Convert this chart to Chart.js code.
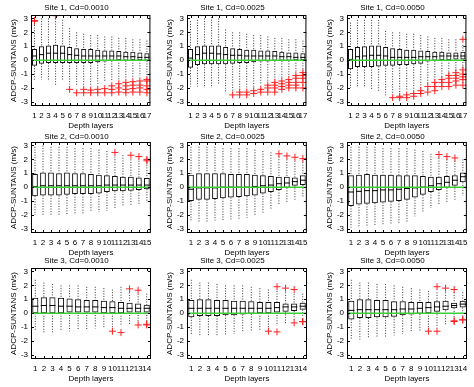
<!DOCTYPE html>
<html>
<head>
<meta charset="utf-8">
<script src="https://cdn.jsdelivr.net/npm/chart.js@4.4.0/dist/chart.umd.min.js"></script>
<style>
  html, body { margin: 0; padding: 0; background: #fff; }
  #wrap { position: relative; width: 474px; height: 387px; overflow: hidden; }
  #wrap canvas { position: absolute; }
</style>
</head>
<body>
<div id="wrap"></div>
<script>
// =====================
// Data
// =====================
const yTicks = [-3, -2, -1, 0, 1, 2, 3];
const titles = [
    "Site 1, Cd=0.0010", "Site 1, Cd=0.0025", "Site 1, Cd=0.0050",
    "Site 2, Cd=0.0010", "Site 2, Cd=0.0025", "Site 2, Cd=0.0050",
    "Site 3, Cd=0.0010", "Site 3, Cd=0.0025", "Site 3, Cd=0.0050"
];

// Site 1, Cd=0.0010 (17 layers)
const s1aHi  = [2.9, 3.0, 3.0, 3.0, 2.9, 2.3, 2.0, 1.9, 1.8, 1.8, 1.7, 1.7, 1.6, 1.6, 1.5, 1.5, 1.4];
const s1aQ3  = [0.8, 1.0, 1.05, 1.1, 1.05, 0.95, 0.85, 0.8, 0.8, 0.75, 0.7, 0.7, 0.65, 0.6, 0.6, 0.55, 0.5];
const s1aMed = [0.3, 0.4, 0.5, 0.5, 0.5, 0.4, 0.35, 0.3, 0.3, 0.3, 0.3, 0.3, 0.3, 0.25, 0.25, 0.2, 0.2];
const s1aQ1  = [-0.4, -0.25, -0.2, -0.2, -0.2, -0.2, -0.2, -0.2, -0.2, -0.15, -0.1, -0.05, 0.0, -0.05, 0.0, 0.0, -0.05];
const s1aLo  = [-1.4, -1.4, -1.5, -1.8, -1.5, -1.75, -1.9, -1.8, -1.8, -1.7, -1.6, -1.5, -1.4, -1.35, -1.25, -1.15, -1.1];
const s1aOut = [[1, 2.85], [1, 2.8], [4, 3.2], [6, -2.1], [7, -2.35], [8, -2.1], [8, -2.35], [9, -2.15], [9, -2.35],
    [10, -2.1], [10, -2.35], [11, -2.05], [11, -2.35], [12, -1.85], [12, -2.1], [12, -2.35], [13, -1.7], [13, -2.0],
    [13, -2.3], [14, -1.6], [14, -1.85], [14, -2.1], [14, -2.35], [15, -1.55], [15, -1.8], [15, -2.05], [15, -2.3],
    [16, -1.5], [16, -1.8], [16, -2.0], [16, -2.3], [17, -1.4], [17, -1.5], [17, -1.85], [17, -2.1], [17, -2.35]];

// Site 1, Cd=0.0025
const s1bHi  = [2.8, 2.9, 3.0, 3.1, 3.0, 2.2, 2.0, 2.0, 1.9, 1.8, 1.8, 1.7, 1.6, 1.6, 1.5, 1.5, 1.4];
const s1bQ3  = [0.8, 1.0, 1.05, 1.05, 1.05, 0.95, 0.85, 0.8, 0.75, 0.75, 0.7, 0.7, 0.65, 0.6, 0.55, 0.55, 0.5];
const s1bMed = [0.15, 0.4, 0.5, 0.5, 0.45, 0.4, 0.35, 0.35, 0.3, 0.3, 0.3, 0.3, 0.3, 0.25, 0.25, 0.2, 0.2];
const s1bQ1  = [-0.55, -0.35, -0.3, -0.3, -0.3, -0.3, -0.25, -0.2, -0.2, -0.15, -0.1, -0.1, -0.05, -0.05, -0.05, 0.0, 0.0];
const s1bLo  = [-1.9, -1.9, -2.0, -2.0, -1.8, -2.3, -2.2, -2.1, -2.0, -1.9, -1.8, -1.6, -1.4, -1.3, -1.2, -0.9, -0.8];
const s1bOut = [[7, -2.5], [8, -2.3], [8, -2.5], [9, -2.3], [9, -2.5], [10, -2.2], [10, -2.4], [11, -2.1], [11, -2.3],
    [12, -1.8], [12, -2.0], [12, -2.3], [13, -1.6], [13, -1.8], [13, -2.0], [13, -2.3], [14, -1.5], [14, -1.7],
    [14, -1.9], [14, -2.1], [15, -1.4], [15, -1.6], [15, -1.8], [15, -2.0], [16, -1.1], [16, -1.3], [16, -1.6],
    [16, -1.8], [16, -2.0], [17, -0.9], [17, -1.1], [17, -1.3], [17, -1.6], [17, -2.0]];

// Site 1, Cd=0.0050
const s1cHi  = [2.7, 2.9, 2.9, 2.9, 2.9, 2.1, 2.0, 2.0, 1.9, 1.9, 1.8, 1.7, 1.6, 1.6, 1.5, 1.5, 1.1];
const s1cQ3  = [0.8, 0.95, 1.0, 1.05, 1.05, 0.95, 0.85, 0.8, 0.75, 0.75, 0.7, 0.65, 0.6, 0.6, 0.55, 0.55, 0.6];
const s1cMed = [0.05, 0.25, 0.3, 0.35, 0.35, 0.3, 0.2, 0.2, 0.2, 0.2, 0.25, 0.25, 0.25, 0.3, 0.3, 0.3, 0.3];
const s1cQ1  = [-0.65, -0.5, -0.5, -0.5, -0.45, -0.4, -0.4, -0.35, -0.35, -0.3, -0.25, -0.1, -0.05, 0.0, 0.0, 0.05, 0.05];
const s1cLo  = [-2.0, -2.0, -2.0, -2.1, -2.2, -2.6, -2.4, -2.3, -2.2, -2.1, -2.0, -1.7, -1.4, -1.2, -1.0, -0.8, -0.6];
const s1cOut = [[7, -2.7], [8, -2.7], [8, -2.6], [9, -2.5], [9, -2.7], [10, -2.4], [10, -2.6], [11, -2.2], [11, -2.4],
    [12, -1.9], [12, -2.3], [13, -1.6], [13, -1.9], [13, -2.2], [14, -1.4], [14, -1.6], [14, -1.9], [15, -1.1],
    [15, -1.3], [15, -1.6], [15, -1.9], [16, -0.9], [16, -1.1], [16, -1.3], [16, -1.5], [16, -1.8], [17, 1.5],
    [17, -0.7], [17, -1.0], [17, -1.2], [17, -1.4], [17, -1.8]];

// Site 2, Cd=0.0010 (15 layers)
const s2aHi  = [2.9, 3.0, 2.9, 2.9, 2.9, 2.8, 2.8, 2.8, 2.7, 2.6, 2.2, 2.3, 2.0, 1.9, 1.8];
const s2aQ3  = [0.95, 1.05, 1.05, 1.0, 1.05, 1.0, 1.0, 0.95, 0.9, 0.85, 0.8, 0.75, 0.75, 0.7, 0.65];
const s2aMed = [0.05, 0.1, 0.1, 0.1, 0.1, 0.1, 0.1, 0.1, 0.1, 0.15, 0.15, 0.15, 0.15, 0.15, 0.15];
const s2aQ1  = [-0.65, -0.6, -0.6, -0.6, -0.55, -0.5, -0.5, -0.5, -0.45, -0.35, -0.3, -0.3, -0.25, -0.2, -0.15];
const s2aLo  = [-2.0, -2.0, -2.0, -2.0, -2.0, -1.9, -1.9, -1.8, -1.8, -1.7, -1.5, -1.4, -1.3, -1.2, -1.1];
const s2aOut = [[11, 2.5], [13, 2.3], [14, 2.2], [15, 1.9], [15, 2.0]];

// Site 2, Cd=0.0025
const s2bHi  = [2.9, 2.9, 2.9, 2.9, 2.8, 2.8, 2.8, 2.8, 2.7, 2.6, 2.5, 2.2, 2.0, 1.9, 1.8];
const s2bQ3  = [0.9, 1.0, 1.0, 1.0, 1.0, 0.95, 0.95, 0.95, 0.9, 0.85, 0.8, 0.75, 0.75, 0.7, 0.85];
const s2bMed = [-0.15, -0.05, -0.05, -0.05, 0.0, 0.0, 0.0, 0.0, 0.05, 0.1, 0.15, 0.25, 0.3, 0.4, 0.5];
const s2bQ1  = [-1.0, -0.9, -0.9, -0.85, -0.8, -0.75, -0.7, -0.65, -0.6, -0.45, -0.35, -0.2, -0.05, 0.1, 0.15];
const s2bLo  = [-2.5, -2.5, -2.5, -2.4, -2.4, -2.4, -2.3, -2.2, -2.1, -1.9, -1.6, -1.3, -1.1, -0.9, -0.7];
const s2bOut = [[12, 2.4], [13, 2.25], [14, 2.15], [15, 2.05]];

// Site 2, Cd=0.0050
const s2cHi  = [2.9, 2.9, 2.9, 2.9, 2.8, 2.8, 2.8, 2.8, 2.7, 2.6, 2.4, 2.1, 2.0, 1.9, 2.0];
const s2cQ3  = [0.85, 0.9, 0.95, 0.9, 0.9, 0.9, 0.85, 0.85, 0.85, 0.8, 0.75, 0.75, 0.8, 0.85, 1.05];
const s2cMed = [-0.35, -0.3, -0.25, -0.25, -0.2, -0.2, -0.15, -0.1, -0.05, 0.0, 0.1, 0.25, 0.35, 0.5, 0.75];
const s2cQ1  = [-1.35, -1.25, -1.2, -1.15, -1.1, -1.05, -1.0, -0.9, -0.75, -0.55, -0.35, -0.2, -0.05, 0.1, 0.35];
const s2cLo  = [-2.9, -2.9, -2.8, -2.8, -2.7, -2.7, -2.6, -2.5, -2.1, -1.8, -1.5, -1.3, -1.1, -0.9, -0.6];
const s2cOut = [[12, 2.35], [13, 2.2], [14, 2.1]];

// Site 3, Cd=0.0010 (14 layers)
const s3aHi  = [2.4, 2.2, 2.1, 2.0, 2.0, 2.0, 1.9, 1.9, 1.8, 1.7, 1.9, 1.5, 1.4, 1.4];
const s3aQ3  = [1.1, 1.15, 1.15, 1.1, 1.05, 1.0, 0.95, 0.95, 0.9, 0.85, 0.8, 0.75, 0.7, 0.6];
const s3aMed = [0.5, 0.55, 0.55, 0.5, 0.5, 0.45, 0.45, 0.45, 0.4, 0.4, 0.35, 0.35, 0.35, 0.35];
const s3aQ1  = [0.0, 0.0, 0.0, 0.0, 0.05, 0.05, 0.05, 0.05, 0.0, 0.0, 0.0, 0.05, 0.05, 0.05];
const s3aLo  = [-1.3, -1.4, -1.4, -1.3, -1.3, -1.2, -1.2, -1.1, -1.1, -1.0, -0.9, -0.8, -0.6, -0.6];
const s3aOut = [[10, -1.3], [11, -1.4], [12, 1.75], [13, 1.65], [13, -0.85], [14, -0.8], [14, -0.85]];

// Site 3, Cd=0.0025
const s3bHi  = [2.4, 2.2, 2.2, 2.1, 2.0, 2.0, 2.0, 1.9, 1.8, 1.7, 1.6, 1.5, 1.4, 1.4];
const s3bQ3  = [0.95, 1.0, 1.0, 0.95, 0.95, 0.9, 0.9, 0.85, 0.8, 0.8, 0.8, 0.7, 0.7, 0.75];
const s3bMed = [0.35, 0.35, 0.35, 0.35, 0.35, 0.35, 0.35, 0.35, 0.35, 0.35, 0.4, 0.45, 0.45, 0.5];
const s3bQ1  = [-0.3, -0.2, -0.2, -0.2, -0.15, -0.15, -0.1, -0.05, 0.0, 0.0, 0.05, 0.1, 0.15, 0.25];
const s3bLo  = [-1.6, -1.6, -1.6, -1.6, -1.6, -1.5, -1.4, -1.3, -1.2, -1.1, -0.9, -0.8, -0.5, -0.3];
const s3bOut = [[10, -1.3], [11, 1.9], [11, -1.35], [12, 1.8], [13, 1.7], [13, -0.7], [14, -0.6], [14, -0.62]];

// Site 3, Cd=0.0050
const s3cHi  = [2.4, 2.2, 2.2, 2.1, 2.1, 2.0, 1.9, 1.8, 1.7, 1.6, 1.5, 1.5, 1.5, 1.5];
const s3cQ3  = [0.9, 1.0, 1.0, 0.95, 0.95, 0.85, 0.85, 0.8, 0.8, 0.8, 0.85, 0.9, 0.75, 0.9];
const s3cMed = [0.2, 0.25, 0.25, 0.25, 0.25, 0.25, 0.3, 0.3, 0.35, 0.4, 0.45, 0.5, 0.55, 0.65];
const s3cQ1  = [-0.45, -0.35, -0.35, -0.3, -0.3, -0.25, -0.15, -0.1, -0.05, 0.0, 0.1, 0.2, 0.35, 0.4];
const s3cLo  = [-1.9, -1.9, -1.8, -1.8, -1.7, -1.6, -1.5, -1.4, -1.3, -1.1, -0.9, -0.8, -0.4, -0.2];
const s3cOut = [[10, -1.3], [11, 1.9], [11, -1.3], [12, 1.8], [13, 1.7], [13, -0.55], [13, -0.6], [14, -0.45], [14, -0.5]];

const panels = [
    { hi: s1aHi, q3: s1aQ3, med: s1aMed, q1: s1aQ1, lo: s1aLo, out: s1aOut },
    { hi: s1bHi, q3: s1bQ3, med: s1bMed, q1: s1bQ1, lo: s1bLo, out: s1bOut },
    { hi: s1cHi, q3: s1cQ3, med: s1cMed, q1: s1cQ1, lo: s1cLo, out: s1cOut },
    { hi: s2aHi, q3: s2aQ3, med: s2aMed, q1: s2aQ1, lo: s2aLo, out: s2aOut },
    { hi: s2bHi, q3: s2bQ3, med: s2bMed, q1: s2bQ1, lo: s2bLo, out: s2bOut },
    { hi: s2cHi, q3: s2cQ3, med: s2cMed, q1: s2cQ1, lo: s2cLo, out: s2cOut },
    { hi: s3aHi, q3: s3aQ3, med: s3aMed, q1: s3aQ1, lo: s3aLo, out: s3aOut },
    { hi: s3bHi, q3: s3bQ3, med: s3bMed, q1: s3bQ1, lo: s3bLo, out: s3bOut },
    { hi: s3cHi, q3: s3cQ3, med: s3cMed, q1: s3cQ1, lo: s3cLo, out: s3cOut }
];

// =====================
// Layout
// =====================
const colLeft = [31, 187, 347];
const rowTop = [15, 142, 268];
const rowTitlePad = [{ top: 1, bottom: 3 }, { top: 3, bottom: 1 }, { top: 1, bottom: 3 }];
const PLOT_W = 122, PLOT_H = 91;
const AXIS_W = 31, TITLE_H = 12, XAXIS_H = 25, RIGHT_PAD = 3;

Chart.defaults.font.family = "'Liberation Sans', Arial, sans-serif";
Chart.defaults.color = "#000";

// green zero reference line, drawn over the boxes
const zeroLinePlugin = {
    id: "zeroLine",
    afterDatasetsDraw(chart) {
        const { ctx, chartArea: a, scales } = chart;
        const y = scales.y.getPixelForValue(0);
        ctx.save();
        ctx.strokeStyle = "#3ccf3c";
        ctx.lineWidth = 1.5;
        ctx.beginPath();
        ctx.moveTo(a.left, y);
        ctx.lineTo(a.right, y);
        ctx.stroke();
        ctx.restore();
    }
};

// box around the plot + inward tick marks (MATLAB style)
const framePlugin = {
    id: "frame",
    afterDraw(chart) {
        const { ctx, chartArea: a, scales } = chart;
        ctx.save();
        ctx.strokeStyle = "#000";
        ctx.lineWidth = 1;
        ctx.strokeRect(a.left + 0.5, a.top + 0.5, a.right - a.left - 1, a.bottom - a.top - 1);
        ctx.beginPath();
        scales.y.ticks.forEach(t => {
            const y = Math.round(scales.y.getPixelForValue(t.value)) + 0.5;
            ctx.moveTo(a.left, y); ctx.lineTo(a.left + 3, y);
            ctx.moveTo(a.right, y); ctx.lineTo(a.right - 3, y);
        });
        scales.x.ticks.forEach((t, i) => {
            const x = Math.round(scales.x.getPixelForValue(i)) + 0.5;
            ctx.moveTo(x, a.bottom); ctx.lineTo(x, a.bottom - 3);
            ctx.moveTo(x, a.top); ctx.lineTo(x, a.top + 3);
        });
        ctx.stroke();
        ctx.restore();
    }
};

const wrap = document.getElementById("wrap");

function makePanel(p, title, left, top, titlePad) {
    const canvas = document.createElement("canvas");
    canvas.width = AXIS_W + PLOT_W + RIGHT_PAD;
    canvas.height = TITLE_H + PLOT_H + XAXIS_H;
    canvas.style.left = (left - AXIS_W) + "px";
    canvas.style.top = (top - TITLE_H) + "px";
    wrap.appendChild(canvas);

    const labels = p.hi.map((v, i) => String(i + 1));
    const n = labels.length;

    const whiskers = [];
    labels.forEach((lab, i) => {
        whiskers.push({ x: lab, y: p.hi[i] }, { x: lab, y: p.q3[i] }, { x: lab, y: null },
                      { x: lab, y: p.q1[i] }, { x: lab, y: p.lo[i] }, { x: lab, y: null });
    });

    new Chart(canvas, {
        type: "bar",
        data: {
            labels,
            datasets: [
                {
                    type: "line", order: 0, data: p.out.map(o => ({ x: String(o[0]), y: o[1] })),
                    showLine: false, pointStyle: "cross", pointRadius: 3.5,
                    borderColor: "#ff2020", pointBorderColor: "#ff2020", pointBorderWidth: 1
                },
                {
                    type: "line", order: 2, data: labels.map((lab, i) => ({ x: lab, y: p.med[i] })),
                    showLine: false, pointStyle: "line", pointRadius: PLOT_W / n * 0.36,
                    pointBorderColor: "#000", pointBorderWidth: 1
                },
                {
                    type: "bar", order: 3, data: p.q1.map((v, i) => [v, p.q3[i]]),
                    backgroundColor: "rgba(0,0,0,0)", borderColor: "#111", borderWidth: 1,
                    inflateAmount: 0, borderSkipped: false, barPercentage: 0.72, categoryPercentage: 1.0
                },
                {
                    type: "line", order: 4, data: whiskers, spanGaps: false,
                    borderColor: "#333", borderWidth: 1, borderDash: [1, 1.6], pointRadius: 0
                }
            ]
        },
        options: {
            responsive: false,
            animation: false,
            events: [],
            layout: { padding: { right: RIGHT_PAD } },
            plugins: {
                legend: { display: false },
                tooltip: { enabled: false },
                title: {
                    display: true, text: title, color: "#000",
                    font: { size: 8, weight: "normal", lineHeight: 1 },
                    padding: titlePad
                }
            },
            scales: {
                x: {
                    type: "category", offset: true,
                    grid: { display: false, drawTicks: false },
                    border: { display: false },
                    ticks: { autoSkip: false, maxRotation: 0, minRotation: 0, padding: 4.5, font: { size: 8 } },
                    title: { display: true, text: "Depth layers", font: { size: 8, lineHeight: 1.1 }, padding: { top: 0, bottom: 1 } },
                    afterFit: s => { s.height = XAXIS_H; }
                },
                y: {
                    min: -3.3, max: 3.25,
                    afterBuildTicks: s => { s.ticks = yTicks.map(v => ({ value: v })); },
                    grid: { display: false, drawTicks: false },
                    border: { display: false },
                    ticks: { padding: 3, font: { size: 8 } },
                    title: { display: true, text: "ADCP-SUNTANS (m/s)", font: { size: 8, lineHeight: 1.1 }, padding: { top: 9, bottom: 0 } },
                    afterFit: s => { s.width = AXIS_W; }
                }
            }
        },
        plugins: [zeroLinePlugin, framePlugin]
    });
}

panels.forEach((p, i) => {
    const row = Math.floor(i / 3);
    makePanel(p, titles[i], colLeft[i % 3], rowTop[row], rowTitlePad[row]);
});
</script>
</body>
</html>
